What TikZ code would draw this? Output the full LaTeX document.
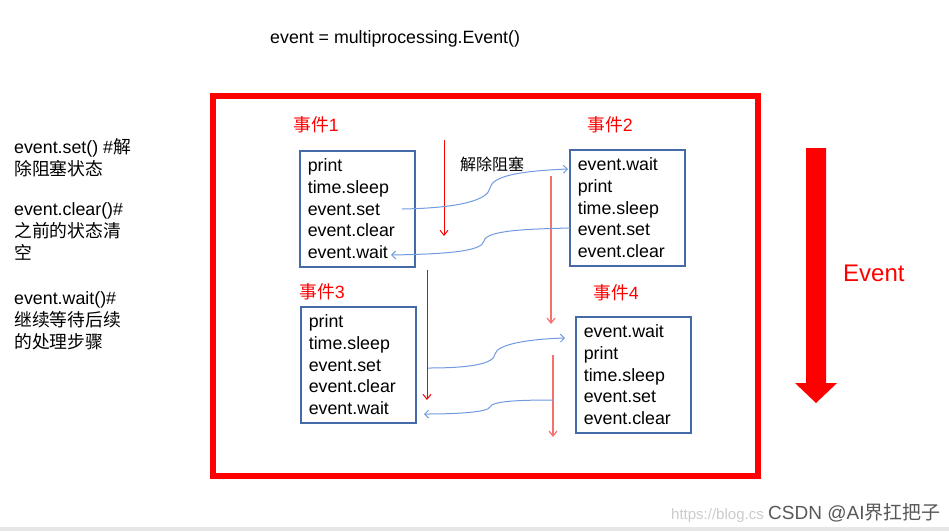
\documentclass[tikz,border=0pt]{standalone}
\usepackage{fontspec}
\setmainfont{Liberation Sans}
\newfontfamily\cjk{Noto Sans CJK SC}
\usetikzlibrary{arrows.meta}
\definecolor{boxblue}{RGB}{68,106,168}
\definecolor{curveblue}{RGB}{112,155,225}
\definecolor{salmon}{RGB}{246,112,112}
\definecolor{barbg}{RGB}{230,230,230}
\begin{document}
\begin{tikzpicture}[x=1pt,y=-1pt,
  txt/.style={anchor=base west, inner sep=0pt, font=\fontsize{17.8}{21.7}\selectfont},
  lefttxt/.style={txt, align=left},
  lbl/.style={txt, text=red},
  box/.style={draw=boxblue, line width=1.6pt, anchor=north west, text width=99pt,
    align=left, inner xsep=8pt, inner ysep=0pt, minimum height=116pt,
    font=\fontsize{17.8}{21.6}\selectfont},
  redarrow/.style={draw=red, line width=1pt, -{Straight Barb[length=5pt,width=8pt]}},
  salarrow/.style={draw=salmon, line width=1.2pt, -{Straight Barb[length=5pt,width=8pt]}},
  bluecurve/.style={draw=curveblue, line width=1pt, -{Straight Barb[length=4pt,width=8pt]}}
]
\useasboundingbox (0,0) rectangle (949,531);
\fill[white] (0,0) rectangle (949,531);
\fill[barbg] (0,527) rectangle (949,531);

% title
\node[txt] (title) at (270,43) {event = multiprocessing.Event()};

% left notes (base anchor = last line)
\node[lefttxt] (n1) at (14,175) {event.set() \#{\cjk 解}\\{\cjk 除阻塞状态}};
\node[lefttxt] (n2) at (14,259) {event.clear()\#\\{\cjk 之前的状态清}\\{\cjk 空}};
\node[lefttxt] (n3) at (14,348) {event.wait()\#\\{\cjk 继续等待后续}\\{\cjk 的处理步骤}};

% frame
\draw[red, line width=6pt] (213,96) rectangle (758,476);

% labels
\node[lbl] (l1) at (293,131) {{\cjk 事件}1};
\node[lbl] (l2) at (587,131) {{\cjk 事件}2};
\node[lbl] (l3) at (299,298) {{\cjk 事件}3};
\node[lbl] (l4) at (593,299) {{\cjk 事件}4};
\node[txt, font=\fontsize{16}{18}\selectfont] (unblock) at (460,170) {{\cjk 解除阻塞}};

% boxes
\node[box] (b1) at (299,150) {print\\time.sleep\\event.set\\event.clear\\event.wait};
\node[box] (b2) at (569,149) {event.wait\\print\\time.sleep\\event.set\\event.clear};
\node[box] (b3) at (300,306) {print\\time.sleep\\event.set\\event.clear\\event.wait};
\node[box] (b4) at (575,316) {event.wait\\print\\time.sleep\\event.set\\event.clear};

% red timeline arrows
\coordinate (r1s) at (444,140); \coordinate (r1e) at (444,236);
\coordinate (r2s) at (551,176); \coordinate (r2e) at (551,324);
\coordinate (r3s) at (427,270); \coordinate (r3e) at (427,400);
\coordinate (r4s) at (553,355); \coordinate (r4e) at (553,437);
\draw[redarrow] (r1s) -- (r1e);
\draw[salarrow] (r2s) -- (r2e);
\draw[redarrow] (r3s) -- (r3e);
\draw[salarrow] (r4s) -- (r4e);

% blue curves
\coordinate (c1s) at (402,209); \coordinate (c1m) at (490,188); \coordinate (c1e) at (568,169);
\draw[bluecurve] (c1s) .. controls (460,208) and (488,200) .. (c1m) .. controls (492,176) and (520,171) .. (c1e);
\coordinate (c2s) at (570,228); \coordinate (c2m) at (484,241); \coordinate (c2e) at (391,255);
\draw[bluecurve] (c2s) .. controls (530,229) and (486,230) .. (c2m) .. controls (482,251) and (450,254) .. (c2e);
\coordinate (c3s) at (428,368); \coordinate (c3m) at (495,354); \coordinate (c3e) at (565,338);
\draw[bluecurve] (c3s) .. controls (470,368) and (494,364) .. (c3m) .. controls (497,344) and (530,339) .. (c3e);
\coordinate (c4s) at (553,400); \coordinate (c4m) at (490,407); \coordinate (c4e) at (424,414);
\draw[bluecurve] (c4s) .. controls (520,400) and (492,401) .. (c4m) .. controls (488,412) and (460,414) .. (c4e);

% big event arrow
\fill[red] (806,148) -- (826,148) -- (826,383) -- (837,383) -- (816,403) -- (795,383) -- (806,383) -- cycle;
\node[txt, text=red, font=\fontsize{24}{28}\selectfont] (ev) at (843,281) {Event};

% watermark
\node[txt, text=gray!40, font=\fontsize{15}{18}\selectfont] (url) at (671,519) {https://blog.cs};
\node[txt, text=black!65, font=\fontsize{19}{22}\selectfont] (wm) at (768,519) {CSDN @AI{\cjk 界扛把子}};
\end{tikzpicture}
\end{document}
